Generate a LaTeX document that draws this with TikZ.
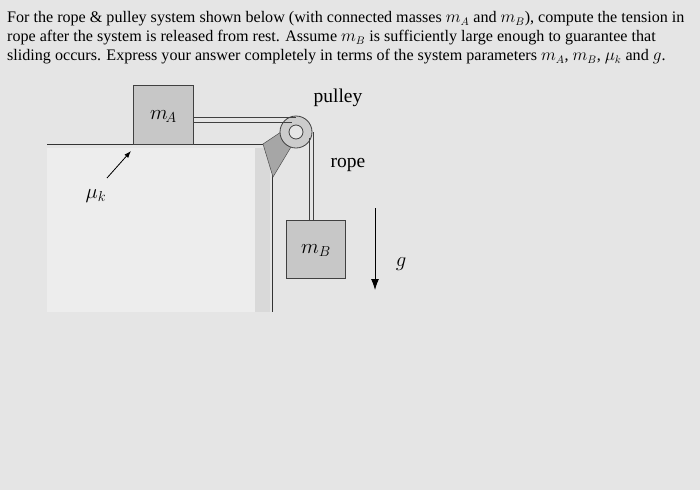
\documentclass[tikz,border=0pt]{standalone}
\usepackage{fontspec}
\setmainfont{Liberation Serif}
\usetikzlibrary{arrows.meta}
\begin{document}
\begin{tikzpicture}[x=1pt,y=-1pt,
  txt/.style={anchor=west,inner sep=0pt,font=\fontsize{16.1}{19}\selectfont},
  lbl/.style={inner sep=0pt,font=\fontsize{19.5}{22}\selectfont},
  blk/.style={draw=black!75,fill=black!22,line width=0.8pt,inner sep=0pt,font=\fontsize{19.5}{22}\selectfont},
  edge/.style={draw=black!80,line width=0.9pt}]
\fill[black!10] (0,0) rectangle (700,490);
\fill[black!7] (47,148) rectangle (255,312);
\fill[black!15] (255,148) rectangle (270,312);
\useasboundingbox (0,0) rectangle (700,490);
\node[txt] (l1) at (7,19) {For the rope \& pulley system shown below (with connected masses $m_A$ and $m_B$), compute the tension in};
\node[txt] (l2) at (7,38) {rope after the system is released from rest. Assume $m_B$ is sufficiently large enough to guarantee that};
\node[txt] (l3) at (7,57) {sliding occurs. Express your answer completely in terms of the system parameters $m_A$, $m_B$, $\mu_k$ and $g$.};
% table
\coordinate (t0) at (47,144);
\coordinate (tc) at (272,144);
\coordinate (tb) at (272,312);
\draw[edge] (t0) -- (tc) -- (tb);
% bracket
\fill[black!35,draw=black!70,line width=0.5pt] (263,144) -- (287,128) -- (294,142) -- (273,177) -- cycle;
% pulley
\node[circle,draw=black!75,fill=black!20,line width=0.8pt,minimum size=32pt,inner sep=0pt] (pul) at (296,132) {};
\node[circle,draw=black!75,fill=black!10,line width=0.8pt,minimum size=14pt,inner sep=0pt] (hub) at (296,132) {};
% block A
\node[blk,minimum width=60pt,minimum height=59pt,anchor=north west,text depth=-6pt] (A) at (133,85) {$m_{\!A}$\hspace{8pt}};
% rope horizontal
\draw[black!75,line width=0.8pt] (A.north east |- 0,117) -- (296,117);
\draw[black!75,line width=0.8pt] (A.north east |- 0,122) -- (292,122);
% block B
\node[blk,minimum width=59pt,minimum height=58pt,anchor=north west,text depth=-3pt] (B) at (286,220) {$m_B$};
% rope vertical
\draw[black!75,line width=0.8pt] (309,138) -- (309,220);
\draw[black!75,line width=0.8pt] (313,132) -- (313,220);
% labels
\node[lbl] (pl) at (338,98) {pulley};
\node[lbl] (rp) at (348,165) {rope};
\node[lbl] (g) at (401,264) {$g$};
\coordinate (g1) at (375,208);
\coordinate (g2) at (375,290);
\draw[-{Latex[length=11pt,width=8pt]},line width=0.9pt] (g1) -- (g2);
\node[lbl] (mu) at (96,196) {$\mu_k$};
\coordinate (m2) at (131,151);
\draw[-{Latex[length=7pt,width=5pt]},line width=0.8pt] (107,178) -- (m2);
\end{tikzpicture}
\end{document}
